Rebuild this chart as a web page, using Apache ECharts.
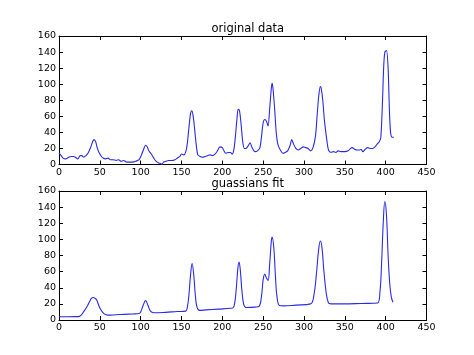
<!DOCTYPE html>
<html>
<head>
<meta charset="utf-8">
<script src="https://cdn.jsdelivr.net/npm/echarts@6/dist/echarts.min.js"></script>
<style>
html,body{margin:0;padding:0;background:#fff;}
#c{width:474px;height:355px;}
</style>
</head>
<body>
<div id="c"></div>
<script>
const titles = ["original data", "guassians fit"];
const xTicks = [0, 50, 100, 150, 200, 250, 300, 350, 400, 450];
const yTicks = [0, 20, 40, 60, 80, 100, 120, 140, 160];

const origX = [0,2,5,8,12,15,18,20,23,26,28,30,33,36,39,41,42,43,45,47,49,52,54,57,60,63,66,70,73,76,79,83,87,90,94,98,101,104,106,108,110,113,116,119,122,125,126,128,131,134,138,142,145,148,150,153,155,157,159,161,162.5,164,166,168,170,173,176,179,182,185,188,191,194,197,200,202,204,207,210,212,214,216,218,219.5,221,223,225,227,229,232,234,236,238,240,243,246,248,250,252,254,256,258,260,261,262,264,266,268,271,274,277,280,283,285,287,290,293,296,299,302,305,308,311,314,316,318,320,321,323,325,328,330,333,336,339,342,345,350,354,357,359,362,365,368,370,372,375,378,381,384,387,390,392,394,396,397.5,399,401,403,404.5,406,408,410];
const origY = [14,12,8,7,9,10,10,9,7,11,11,9,11,15,22,28,30,31,28,20,15,10,8,7,8,6,6,5,6,4,5,3,3,3,4,6,12,20,24,22,17,13,8,4,2,1,0,3,4,5,5,6,8,10,13,12,15,25,45,63,67,62,45,25,12,10,9,10,11,12,11,13,17,22,21,17,14,15,15,13,18,35,58,69,67,50,28,20,20,24,27,22,18,16,17,21,35,52,56,54,48,70,95,101,95,70,40,25,18,14,15,17,24,31,26,20,18,20,22,21,20,17,21,35,60,85,97,95,80,55,30,18,15,16,15,17,16,16,17,20,21,19,18,18,19,16,19,21,20,20,22,26,28,33,75,120,140,142,120,70,40,34,34];

const fitX = [0,10,20,25,30,35,38,40,42,44,46,50,55,60,70,80,90,98,100,103,106,109,112,116,130,145,155,157,159,161,163,165,167,169,172,180,195,210,213,215,217,219,220.5,222,224,226,228,230,240,245,248,250,252,254,256,258,260,261,263,265,267,270,275,290,308,312,315,318,320,322,324,327,330,333,350,370,390,393,395,397,399,401,403,405,407,409];
const fitY = [4,4,4.2,4.5,10,18,24,27,28,27,25,15,8,6,6.5,7,7.5,8,10,18,24,18,11,9,9.5,10.5,11,15,30,55,70,56,30,16,12,12.5,13.5,14.5,15,20,38,64,72,62,36,20,16,15.5,16,17,30,50,57,52,49,70,98,103,90,55,28,18,17.5,18.5,20,30,55,88,98,90,65,35,21,20,20,20.5,21,35,70,120,147,130,80,45,28,22];

function pairs(xs, ys) { return xs.map((x, i) => [x, ys[i]]); }

const FONT = 'DejaVu Sans';
const grids = [
  { left: 59, top: 36, width: 367.5, height: 128.5 },
  { left: 59, top: 191, width: 367.5, height: 129 }
];

function xAxisDef(gi, pos, show) {
  return {
    type: 'value', gridIndex: gi, position: pos, min: 0, max: 450, interval: 50,
    axisLine: { show: true, onZero: false, lineStyle: { color: '#000', width: 1 } },
    axisTick: { show: true, inside: true, length: 4, lineStyle: { color: '#000' } },
    axisLabel: { show: show, color: '#000', fontFamily: FONT, fontSize: 9.5, margin: 3 },
    splitLine: { show: false }
  };
}
function yAxisDef(gi, pos, show) {
  return {
    type: 'value', gridIndex: gi, position: pos, min: 0, max: 160, interval: 20,
    axisLine: { show: true, onZero: false, lineStyle: { color: '#000', width: 1 } },
    axisTick: { show: true, inside: true, length: 4, lineStyle: { color: '#000' } },
    axisLabel: { show: show, color: '#000', fontFamily: FONT, fontSize: 9.5, margin: 3 },
    splitLine: { show: false }
  };
}

const chart = echarts.init(document.getElementById('c'), null, { renderer: 'canvas' });
chart.setOption({
  animation: false,
  backgroundColor: '#fff',
  title: [
    { text: titles[0], left: 242.75, textAlign: 'center', top: 18, textStyle: { fontFamily: FONT, fontSize: 11.5, fontWeight: 'normal', color: '#000' } },
    { text: titles[1], left: 242.75, textAlign: 'center', top: 173, textStyle: { fontFamily: FONT, fontSize: 11.5, fontWeight: 'normal', color: '#000' } }
  ],
  grid: grids,
  xAxis: [xAxisDef(0, 'bottom', true), xAxisDef(0, 'top', false), xAxisDef(1, 'bottom', true), xAxisDef(1, 'top', false)],
  yAxis: [yAxisDef(0, 'left', true), yAxisDef(0, 'right', false), yAxisDef(1, 'left', true), yAxisDef(1, 'right', false)],
  series: [
    { type: 'line', xAxisIndex: 0, yAxisIndex: 0, data: pairs(origX, origY), showSymbol: false, smooth: 0.3, lineStyle: { color: '#2a2ae6', width: 1.1 } },
    { type: 'line', xAxisIndex: 2, yAxisIndex: 2, data: pairs(fitX, fitY), showSymbol: false, smooth: 0.4, lineStyle: { color: '#2a2ae6', width: 1.1 } }
  ]
});
</script>
</body>
</html>
